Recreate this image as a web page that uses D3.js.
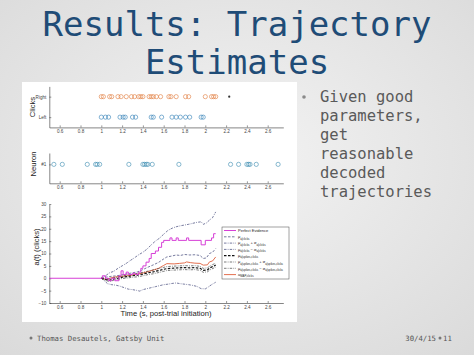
<!DOCTYPE html>
<html><head><meta charset="utf-8">
<script src="https://cdn.jsdelivr.net/npm/d3@7"></script>
<style>html,body{margin:0;padding:0;overflow:hidden;background:#e6e6e6}svg{display:block}</style>
</head><body><svg id="c" width="474" height="355"></svg>
<script>
// ---------- data ----------
const titleLines = ["Results: Trajectory", "Estimates"];
const bulletLines = ["Given good", "parameters,", "get", "reasonable", "decoded", "trajectories"];
const footerLeft = "Thomas Desautels, Gatsby Unit";
const footerDate = "30/4/15";
const footerPage = "11";

const xTicks = [0.6, 0.8, 1, 1.2, 1.4, 1.6, 1.8, 2, 2.2, 2.4, 2.6];
const aTicks = [-10, -5, 0, 5, 10, 15, 20, 25, 30];
const clickRowLabels = ["Left", "Right"];
const neuronRowLabels = ["#1"];

const rightClicks = [1.0, 1.02, 1.08, 1.1, 1.16, 1.19, 1.24, 1.29, 1.32, 1.36, 1.38, 1.4, 1.46, 1.48, 1.5, 1.53, 1.57, 1.65, 1.67, 1.72, 1.81, 1.84, 2.0, 2.06, 2.08, 2.1];
const leftClicks = [1.0, 1.04, 1.07, 1.18, 1.21, 1.23, 1.3, 1.33, 1.48, 1.5, 1.58, 1.68, 1.72, 1.76, 1.81, 1.85, 1.96, 1.98];
const endMarker = [2.23];
const neuronSpikes = [0.544, 0.625, 0.865, 0.945, 0.96, 0.984, 1.265, 1.40, 1.416, 1.433, 1.448, 1.49, 1.746, 2.243, 2.32, 2.40, 2.416, 2.43, 2.49, 2.70];

const perfectEvidence = [[0.5,0],[1.0,0],[1.01,1],[1.04,0],[1.07,-1],[1.1,0],[1.13,-1],[1.17,1],[1.19,3],[1.21,1.5],[1.24,2.5],[1.26,1.5],[1.3,2],[1.33,1.5],[1.36,2.5],[1.38,4],[1.4,5],[1.43,6.5],[1.46,8],[1.48,10],[1.52,11],[1.55,12.5],[1.58,14.5],[1.6,15.3],[1.66,16.3],[1.68,15.3],[1.72,16.3],[1.74,15.3],[1.82,16.3],[1.84,15.3],[1.96,13.5],[2.0,15.3],[2.06,16.3],[2.08,18],[2.1,18]];
const muClicks = [[1.0,0],[1.05,0.5],[1.1,0.8],[1.15,1],[1.2,1.4],[1.25,1.8],[1.3,2.2],[1.35,2.6],[1.4,3.5],[1.45,4.5],[1.5,5.4],[1.55,6.4],[1.6,7.8],[1.63,8.6],[1.68,9],[1.72,9.4],[1.76,9.2],[1.8,9.6],[1.85,9.4],[1.9,9.5],[1.95,9.2],[1.98,8],[2.01,8.2],[2.04,10],[2.07,10.5],[2.1,12]];
const muClicksPlus = [[1.0,0],[1.04,1],[1.08,2.2],[1.12,2.8],[1.16,4],[1.2,5],[1.24,6],[1.28,7.2],[1.32,8.3],[1.36,9.5],[1.4,10.5],[1.44,11.8],[1.48,13.5],[1.52,15],[1.56,16.2],[1.6,17.8],[1.64,19.3],[1.68,20.2],[1.72,20.8],[1.76,21.2],[1.8,21.5],[1.84,21.8],[1.88,22.2],[1.92,22.6],[1.96,22.8],[1.98,21.8],[2.01,22.3],[2.04,23.5],[2.07,24.5],[2.1,26.8]];
const muClicksMinus = [[1.0,0],[1.03,-1],[1.06,-2.2],[1.1,-2.6],[1.14,-2.8],[1.18,-3.2],[1.22,-3.8],[1.26,-4.4],[1.3,-4.6],[1.34,-4.9],[1.37,-5.2],[1.4,-4.6],[1.44,-4.2],[1.48,-3.8],[1.52,-3.4],[1.56,-3.0],[1.6,-2.6],[1.64,-2.4],[1.68,-2.1],[1.72,-1.9],[1.76,-2.2],[1.8,-2.4],[1.84,-2.6],[1.88,-2.9],[1.92,-3.3],[1.96,-4.2],[2.0,-4.3],[2.03,-3.5],[2.06,-2.6],[2.1,-1.6]];
const muSpikes = [[1.0,0],[1.04,-0.5],[1.08,-0.8],[1.12,-0.3],[1.16,0],[1.2,0.4],[1.25,0.7],[1.3,1.0],[1.35,1.3],[1.4,1.7],[1.45,2.2],[1.5,2.6],[1.55,3.1],[1.6,3.6],[1.63,3.9],[1.7,4.1],[1.75,4.2],[1.8,4.3],[1.85,4.2],[1.9,4.3],[1.95,4.0],[1.98,3.2],[2.02,3.4],[2.05,4.3],[2.1,5.3]];
const muSpikesPlus = [[1.0,0],[1.04,-0.1],[1.08,-0.3],[1.12,0.2],[1.16,0.5],[1.2,0.9],[1.25,1.3],[1.3,1.6],[1.35,2.0],[1.4,2.4],[1.45,2.9],[1.5,3.4],[1.55,3.9],[1.6,4.4],[1.63,4.7],[1.7,4.9],[1.75,5.0],[1.8,5.1],[1.85,5.0],[1.9,5.1],[1.95,4.8],[1.98,4.0],[2.02,4.2],[2.05,5.1],[2.1,6.1]];
const muSpikesMinus = [[1.0,0],[1.04,-0.9],[1.08,-1.3],[1.12,-0.8],[1.16,-0.5],[1.2,-0.1],[1.25,0.1],[1.3,0.4],[1.35,0.6],[1.4,1.0],[1.45,1.5],[1.5,1.8],[1.55,2.3],[1.6,2.8],[1.63,3.1],[1.7,3.3],[1.75,3.4],[1.8,3.5],[1.85,3.4],[1.9,3.5],[1.95,3.2],[1.98,2.4],[2.02,2.6],[2.05,3.5],[2.1,4.5]];
const mapClicks = [[1.0,0],[1.05,-0.5],[1.1,0.3],[1.15,0.6],[1.2,0.8],[1.25,1.0],[1.3,1.3],[1.35,1.7],[1.4,2.1],[1.45,2.7],[1.5,3.3],[1.55,4.0],[1.6,5.2],[1.63,5.9],[1.7,5.8],[1.75,6],[1.8,6.2],[1.82,6.6],[1.86,6.3],[1.9,6.1],[1.95,6.0],[1.98,5.3],[2.02,5.4],[2.04,6.6],[2.07,7],[2.1,8.6]];

// legend label parts: [text, isSubscript]
const legendLabels = [
  [["Perfect Evidence",0]],
  [["\u03bc",0],["a|clicks",1]],
  [["\u03bc",0],["a|clicks",1],[" + \u03c3",0],["a|clicks",1]],
  [["\u03bc",0],["a|clicks",1],[" \u2212 \u03c3",0],["a|clicks",1]],
  [["\u03bc",0],["a|spikes,clicks",1]],
  [["\u03bc",0],["a|spikes,clicks",1],[" + \u03c3",0],["a|spikes,clicks",1]],
  [["\u03bc",0],["a|spikes,clicks",1],[" \u2212 \u03c3",0],["a|spikes,clicks",1]],
  [["a",0],["MAP,clicks",1]]
];

// ---------- styles ----------
const seriesStyle = [
  {data: perfectEvidence, color: "#d63fd6", width: 1.0, dash: null, step: true},
  {data: muClicks, color: "#3c4276", width: 0.7, dash: "2.5,1.5", step: false},
  {data: muClicksPlus, color: "#3c4276", width: 0.7, dash: "2.5,1.2,0.8,1.2", step: false},
  {data: muClicksMinus, color: "#3c4276", width: 0.7, dash: "2.5,1.2,0.8,1.2", step: false},
  {data: muSpikes, color: "#111", width: 1.2, dash: "2.5,1.5", step: false},
  {data: muSpikesPlus, color: "#222", width: 0.6, dash: "2.5,1.2,0.8,1.2", step: false},
  {data: muSpikesMinus, color: "#222", width: 0.6, dash: "2.5,1.2,0.8,1.2", step: false},
  {data: mapClicks, color: "#e0603c", width: 0.9, dash: null, step: false}
];
const FONT = "'Liberation Sans', Arial, sans-serif";
const MONO = "'DejaVu Sans Mono', monospace";

const svg = d3.select("#c");
const defs = svg.append("defs");
const rg = defs.append("radialGradient").attr("id","bg").attr("cx","50%").attr("cy","45%").attr("r","75%");
rg.append("stop").attr("offset","0%").attr("stop-color","#f3f3f3");
rg.append("stop").attr("offset","100%").attr("stop-color","#dadada");
svg.append("rect").attr("width",474).attr("height",355).attr("fill","url(#bg)");

// title
svg.selectAll("text.title").data(titleLines).enter().append("text")
  .attr("x",237).attr("y",(d,i)=>36+i*37.5).attr("text-anchor","middle")
  .attr("font-family",MONO).attr("font-size",34).attr("fill","#1f4c77").text(d=>d);

// white chart box
svg.append("rect").attr("x",22).attr("y",82).attr("width",275).attr("height",240).attr("fill","#fff");

// bullet text
svg.append("circle").attr("cx",304).attr("cy",97).attr("r",1.8).attr("fill","#8a8a8a");
svg.selectAll("text.bul").data(bulletLines).enter().append("text")
  .attr("x",320).attr("y",(d,i)=>102+i*19).attr("font-family",MONO).attr("font-size",15.5)
  .attr("fill","#5a5a5a").text(d=>d);

// footer
svg.append("circle").attr("cx",31).attr("cy",338).attr("r",1.5).attr("fill","#777");
svg.append("text").attr("x",37).attr("y",341).attr("font-family",MONO).attr("font-size",7.3).attr("fill","#555").text(footerLeft);
svg.append("text").attr("x",436).attr("y",341).attr("text-anchor","end").attr("font-family",MONO).attr("font-size",7.3).attr("fill","#555").text(footerDate);
svg.append("circle").attr("cx",440).attr("cy",338).attr("r",1.5).attr("fill","#777");
svg.append("text").attr("x",443).attr("y",341).attr("font-family",MONO).attr("font-size",7.3).attr("fill","#555").text(footerPage);

// ---------- scales ----------
const x = d3.scaleLinear().domain([0.5, 2.75]).range([49.3, 283.3]);
const yClick = d3.scaleLinear().domain([-0.5, 1.5]).range([127.4, 86.4]);
const yNeuron = d3.scaleLinear().domain([0.5, 1.3]).range([183.3, 153]);
const yA = d3.scaleLinear().domain([-10, 30]).range([303, 204]);

function styleAxis(g){
  g.attr("font-family",FONT).attr("font-size",4.6);
  g.select(".domain").attr("stroke","#333").attr("stroke-width",0.6);
  g.selectAll(".tick line").attr("stroke","#333").attr("stroke-width",0.5);
  g.selectAll(".tick text").attr("fill","#444");
}
const fmtX = d => String(+d.toFixed(1));
function xAxis(yPos){
  svg.append("g").attr("transform",`translate(0,${yPos})`)
    .call(d3.axisBottom(x).tickValues(xTicks).tickFormat(fmtX).tickSizeInner(-2).tickSizeOuter(0).tickPadding(2.5))
    .call(styleAxis);
}
function yAxisLabel(txt, cx, cy){
  svg.append("text").attr("transform",`translate(${cx},${cy}) rotate(-90)`).attr("text-anchor","middle")
    .attr("font-family",FONT).attr("font-size",7.6).attr("fill","#222").text(txt);
}

// panel 1: clicks
xAxis(127.4);
svg.append("g").attr("transform","translate(49.3,0)")
  .call(d3.axisLeft(yClick).tickValues([0,1]).tickFormat(d=>clickRowLabels[d]).tickSizeInner(-2).tickSizeOuter(0).tickPadding(3))
  .call(styleAxis);
yAxisLabel("Clicks", 35, 107);
const circ = (sel, data, yv, color) => sel.selectAll(null).data(data).enter().append("circle")
  .attr("cx", d=>x(d)).attr("cy", yv).attr("r",2.1).attr("fill","none").attr("stroke",color).attr("stroke-width",0.6);
circ(svg, rightClicks, yClick(1), "#e07a3a");
circ(svg, leftClicks, yClick(0), "#2f7db5");
svg.selectAll(null).data(endMarker).enter().append("circle")
  .attr("cx",d=>x(d)).attr("cy",yClick(1)).attr("r",1.1).attr("fill","#333");

// panel 2: neuron
xAxis(183.3);
svg.append("g").attr("transform","translate(49.3,0)")
  .call(d3.axisLeft(yNeuron).tickValues([1]).tickFormat(()=>neuronRowLabels[0]).tickSizeInner(-2).tickSizeOuter(0).tickPadding(3))
  .call(styleAxis);
yAxisLabel("Neuron", 36, 164);
circ(svg, neuronSpikes, yNeuron(1), "#3b8bb0");

// panel 3: trajectories
xAxis(303);
svg.append("g").attr("transform","translate(49.3,0)")
  .call(d3.axisLeft(yA).tickValues(aTicks).tickSizeInner(-2).tickSizeOuter(0).tickPadding(3))
  .call(styleAxis);
yAxisLabel("a(t) (clicks)", 38.5, 247);
svg.append("text").attr("x",166).attr("y",316).attr("text-anchor","middle")
  .attr("font-family",FONT).attr("font-size",7.6).attr("fill","#222").text("Time (s, post-trial initiation)");

const order = [2,3,1,7,5,6,4,0];
order.forEach(i=>{
  const s = seriesStyle[i];
  const line = d3.line().x(d=>x(d[0])).y(d=>yA(d[1])).curve(s.step ? d3.curveStepAfter : d3.curveLinear);
  svg.append("path").attr("d", line(s.data)).attr("fill","none").attr("stroke",s.color)
    .attr("stroke-width",s.width).attr("stroke-dasharray",s.dash);
});

// legend
const lg = svg.append("g");
lg.append("rect").attr("x",222).attr("y",227).attr("width",67).attr("height",52)
  .attr("fill","#fff").attr("stroke","#444").attr("stroke-width",0.5);
const rowY = i => 230.5 + i*6.3;
legendLabels.forEach((parts,i)=>{
  const s = seriesStyle[i];
  lg.append("line").attr("x1",224).attr("x2",236).attr("y1",rowY(i)).attr("y2",rowY(i))
    .attr("stroke",s.color).attr("stroke-width",s.width).attr("stroke-dasharray",s.dash);
  const t = lg.append("text").attr("x",238).attr("y",rowY(i)+1.3).attr("font-family",FONT).attr("font-size",4).attr("fill","#222");
  let inSub = false;
  parts.forEach(p=>{
    const sub = !!p[1];
    const dy = sub && !inSub ? 1.4 : (!sub && inSub ? -1.4 : 0);
    t.append("tspan").attr("font-size",sub?2.8:4).attr("dy",dy).text(p[0]);
    inSub = sub;
  });
});
</script>
</body></html>
